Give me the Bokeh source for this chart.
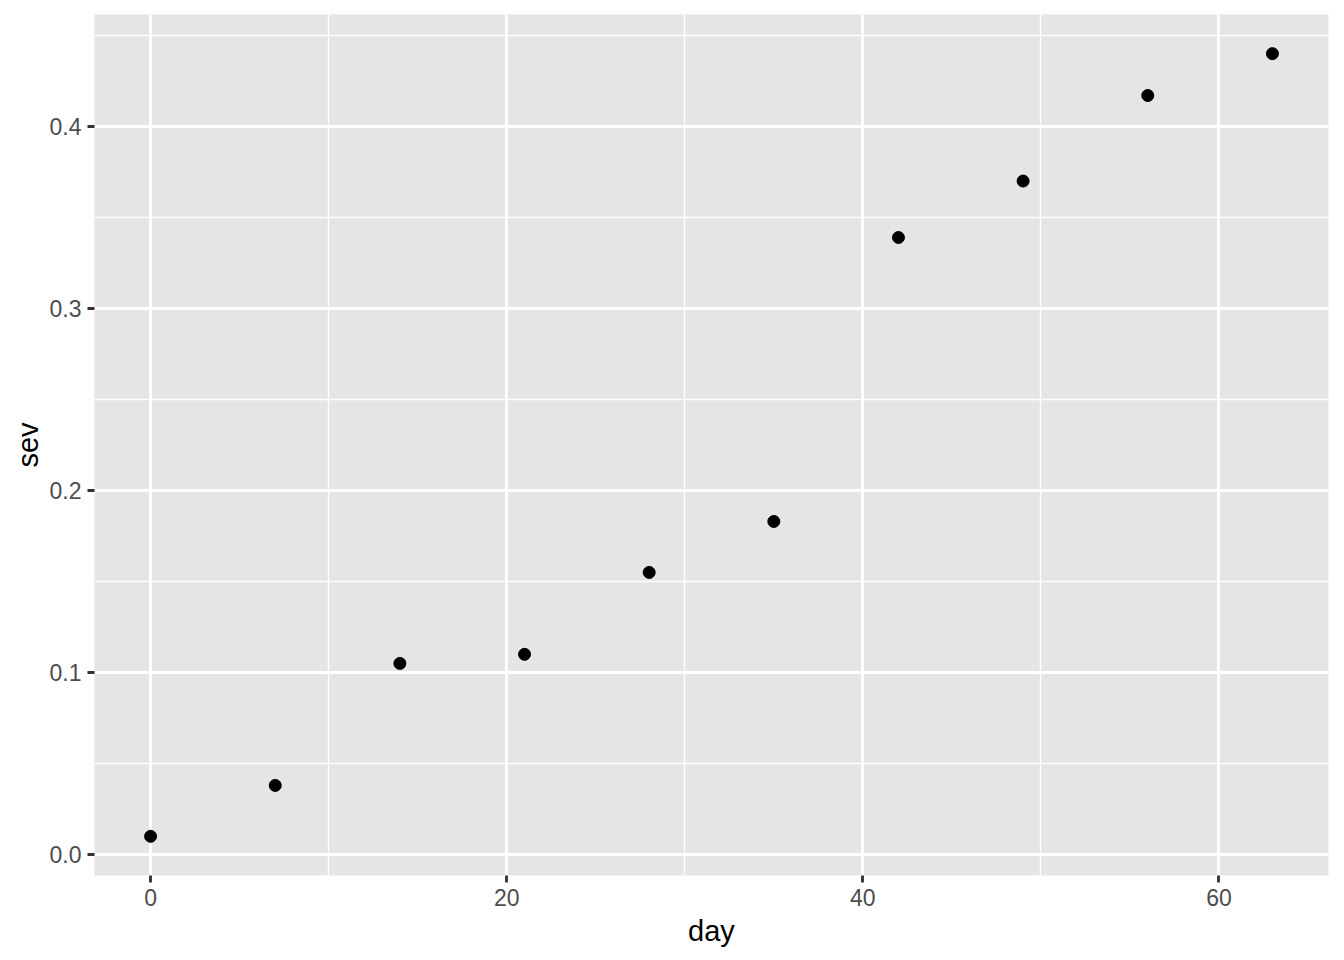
from bokeh.plotting import figure
from bokeh.models import Range1d, FixedTicker, PrintfTickFormatter
from bokeh.embed import file_html
from bokeh.resources import INLINE

day = [0, 7, 14, 21, 28, 35, 42, 49, 56, 63]
sev = [0.010, 0.038, 0.105, 0.110, 0.155, 0.183, 0.339, 0.370, 0.417, 0.440]

x_ticks = [0, 20, 40, 60]
x_minor = [10, 30, 50]
y_ticks = [0.0, 0.1, 0.2, 0.3, 0.4]
y_minor = [0.05, 0.15, 0.25, 0.35, 0.45]

xpad = (max(day) - min(day)) * 0.05
ypad = (max(sev) - min(sev)) * 0.05

p = figure(
    frame_width=1234, frame_height=861,
    min_border_left=94, min_border_right=7, min_border_top=14, min_border_bottom=76,
    x_range=Range1d(min(day) - xpad, max(day) + xpad),
    y_range=Range1d(min(sev) - ypad, max(sev) + ypad),
    output_backend="svg", toolbar_location=None,
)

p.background_fill_color = "#E5E5E5"
p.border_fill_color = "white"
p.outline_line_color = None

p.xaxis.ticker = FixedTicker(ticks=x_ticks, minor_ticks=x_minor)
p.yaxis.ticker = FixedTicker(ticks=y_ticks, minor_ticks=y_minor)
p.yaxis.formatter = PrintfTickFormatter(format="%.1f")

for g in (p.xgrid, p.ygrid):
    g.grid_line_color = "white"
    g.grid_line_width = 2.85
    g.minor_grid_line_color = "white"
    g.minor_grid_line_width = 1.42

for ax in (p.xaxis, p.yaxis):
    ax.axis_line_color = None
    ax.major_tick_in = 0
    ax.major_tick_out = 7
    ax.major_tick_line_width = 2.85
    ax.major_tick_line_color = "#333333"
    ax.minor_tick_in = 0
    ax.minor_tick_out = 0
    ax.minor_tick_line_color = None
    ax.major_label_text_font = "Liberation Sans"
    ax.major_label_text_font_size = "23px"
    ax.major_label_text_color = "#4D4D4D"
    ax.major_label_standoff = 6
    ax.axis_label_text_font = "Liberation Sans"
    ax.axis_label_text_font_size = "29px"
    ax.axis_label_text_font_style = "normal"
    ax.axis_label_text_color = "black"

p.xaxis.axis_label_standoff = 6
p.yaxis.axis_label_standoff = 3
p.xaxis.axis_label = "day"
p.yaxis.axis_label = "sev"

p.scatter(day, sev, size=12, color="black")

open("out.html", "w").write(file_html(p, INLINE))
